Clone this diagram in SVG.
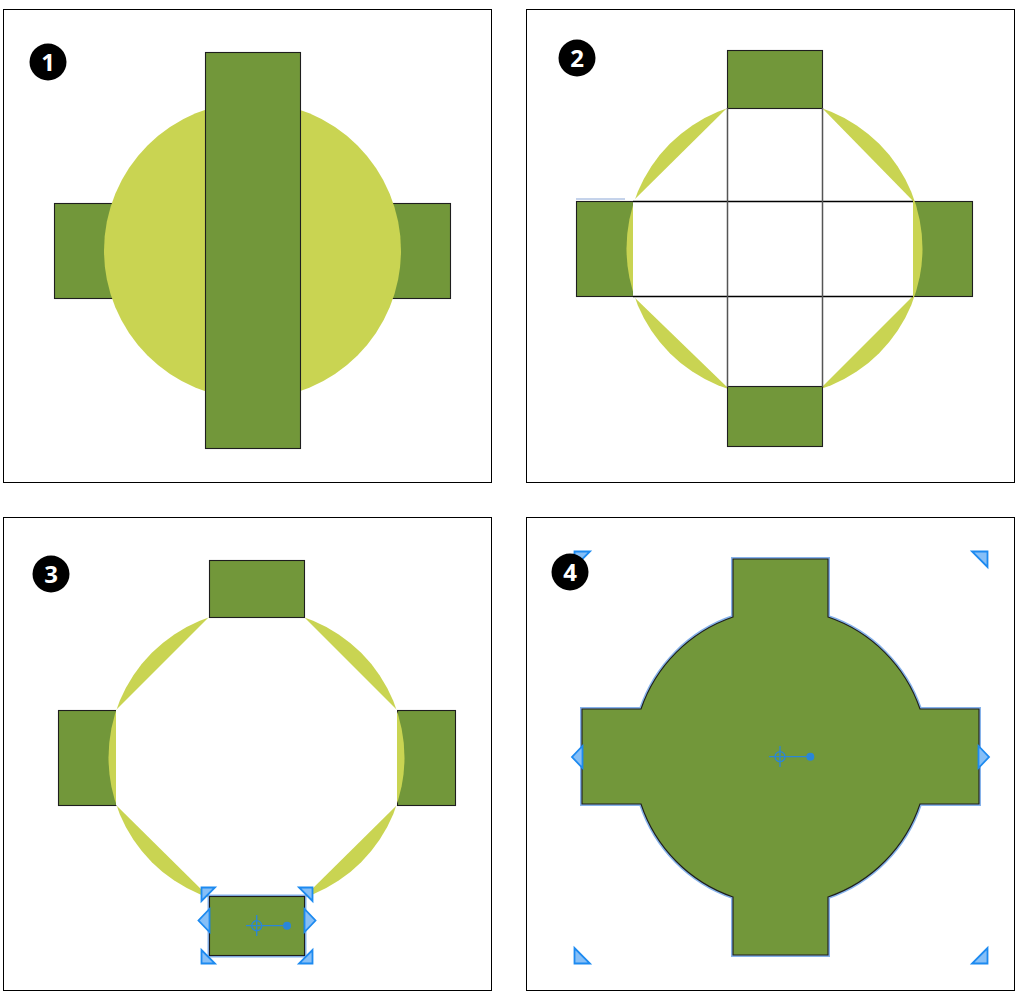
<svg xmlns="http://www.w3.org/2000/svg" width="1023" height="999" viewBox="0 0 1023 999">
<style>
.frame{fill:#fff;stroke:#000;stroke-width:1}
.dg{fill:#72973a;stroke:#1e1e1e;stroke-width:1.1}
.lime{fill:#c9d452;stroke:none}
.wh{fill:#fff;stroke:none}
.grid{stroke:#000;stroke-width:1.4;fill:none}
.gridv{stroke:#555;stroke-width:1.5;fill:none}
.badge{fill:#000}
.num{font-family:"Open Sans","DejaVu Sans",sans-serif;font-weight:bold;font-size:24px;fill:#fff;text-anchor:middle}
.h{fill:#86bff7;stroke:#1d8af0;stroke-width:1.8;stroke-linejoin:miter}
.sel{fill:none;stroke:#86b2ea;stroke-width:4}
.cross{stroke:#2a86d8;stroke-width:1.3;fill:none}
.dot{fill:#2a86d8}
</style>
<rect width="1023" height="999" fill="#fff"/>

<g id="panel1">
<rect class="frame" x="3.5" y="9.5" width="488" height="473"/>
<rect class="dg" x="54.5" y="203.5" width="60" height="95"/>
<rect class="dg" x="390.5" y="203.5" width="60" height="95"/>
<circle class="lime" cx="252.5" cy="250.5" r="148.5"/>
<rect class="dg" x="205.5" y="52.5" width="95" height="396"/>
<circle class="badge" cx="48" cy="62" r="18.5"/>
<text class="num" x="48" y="70.5">1</text>
</g>

<g id="panel2">
<rect class="frame" x="526.5" y="9.5" width="488" height="473"/>
<line x1="576" y1="199" x2="625" y2="199" stroke="#8aa6d6" stroke-width="1"/>
<rect class="dg" x="576.5" y="201.5" width="57" height="95"/>
<rect class="dg" x="913.5" y="201.5" width="59" height="95"/>
<circle class="lime" cx="774.5" cy="248.5" r="148"/>
<polygon class="wh" points="727,108 822,108 913,201 913,296 822,387 727,387 633,296 633,201"/>
<rect class="dg" x="727.5" y="50.5" width="95" height="58"/>
<rect class="dg" x="727.5" y="386.5" width="95" height="60"/>
<line class="grid" x1="633" y1="201.5" x2="913" y2="201.5"/>
<line class="grid" x1="633" y1="296.5" x2="913" y2="296.5"/>
<line class="gridv" x1="727.5" y1="108" x2="727.5" y2="387"/>
<line class="gridv" x1="822.5" y1="108" x2="822.5" y2="387"/>
<circle class="badge" cx="577" cy="58" r="18.5"/>
<text class="num" x="577" y="66.5">2</text>
</g>

<g id="panel3">
<rect class="frame" x="3.5" y="517.5" width="488" height="473"/>
<rect class="dg" x="58.5" y="710.5" width="58" height="95"/>
<rect class="dg" x="397.5" y="710.5" width="58" height="95"/>
<circle class="lime" cx="256.5" cy="757.5" r="148"/>
<polygon class="wh" points="209,617 304,617 397,710 397,805 304,897 209,897 116,805 116,710"/>
<rect class="dg" x="209.5" y="560.5" width="95" height="57"/>
<rect class="sel" x="209.5" y="896.5" width="95" height="59"/>
<rect class="dg" x="209.5" y="896.5" width="95" height="59"/>
<g id="handles3">
<polygon class="h" points="201.5,887.5 215,887.5 201.5,901"/>
<polygon class="h" points="312.5,887.5 299,887.5 312.5,901"/>
<polygon class="h" points="201.5,963.5 215,963.5 201.5,950"/>
<polygon class="h" points="312.5,963.5 299,963.5 312.5,950"/>
<polygon class="h" points="209.5,909 209.5,932 198.5,920.5"/>
<polygon class="h" points="304.5,909 304.5,932 315.5,920.5"/>
</g>
<g id="pivot3">
<circle class="cross" cx="256.7" cy="925.7" r="5"/>
<line class="cross" x1="246" y1="925.7" x2="287" y2="925.7"/>
<line class="cross" x1="256.7" y1="915" x2="256.7" y2="936"/>
<circle class="dot" cx="287" cy="925.7" r="4"/>
</g>
<circle class="badge" cx="51" cy="574" r="18.5"/>
<text class="num" x="51" y="582.5">3</text>
</g>

<g id="panel4">
<rect class="frame" x="526.5" y="517.5" width="488" height="473"/>
<path class="sel" d="M733,559 H828 V617 A147.5,147.5 0 0 1 920,709 H979 V804 H920 A147.5,147.5 0 0 1 828,897 V955 H733 V897 A147.5,147.5 0 0 1 641,804 H582 V709 H641 A147.5,147.5 0 0 1 733,617 Z"/>
<path class="dg" d="M733,559 H828 V617 A147.5,147.5 0 0 1 920,709 H979 V804 H920 A147.5,147.5 0 0 1 828,897 V955 H733 V897 A147.5,147.5 0 0 1 641,804 H582 V709 H641 A147.5,147.5 0 0 1 733,617 Z"/>
<g id="handles4">
<polygon class="h" points="574.5,551.5 590,551.5 574.5,567"/>
<polygon class="h" points="987.5,551.5 972,551.5 987.5,567"/>
<polygon class="h" points="574.5,963.5 590,963.5 574.5,948"/>
<polygon class="h" points="987.5,963.5 972,963.5 987.5,948"/>
<polygon class="h" points="582.5,746 582.5,768 572,757"/>
<polygon class="h" points="978.5,746 978.5,768 989,757"/>
</g>
<g id="pivot4">
<circle class="cross" cx="780" cy="756.7" r="5"/>
<line class="cross" x1="769" y1="756.7" x2="810" y2="756.7"/>
<line class="cross" x1="780" y1="746" x2="780" y2="767"/>
<circle class="dot" cx="810.3" cy="756.7" r="4"/>
</g>
<circle class="badge" cx="570" cy="572" r="18.5"/>
<text class="num" x="570" y="580.5">4</text>
</g>
</svg>
